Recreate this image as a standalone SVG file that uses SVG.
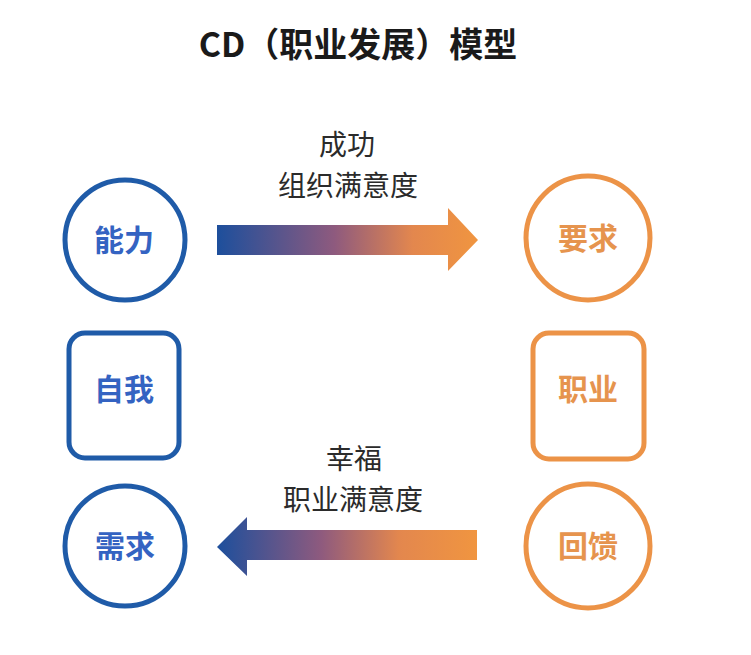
<svg xmlns="http://www.w3.org/2000/svg" width="751" height="655" viewBox="0 0 751 655">
<style>
text{font-family:"Noto Sans CJK SC","Noto Sans",sans-serif;text-anchor:middle}
.title{font-size:34px;font-weight:700;fill:#1a1a1a}
.lbl{font-size:28px;fill:#2b2b2b}
.bn{fill:#fff;stroke:#1f5ba8;stroke-width:5}
.on{fill:#fff;stroke:#ec9347;stroke-width:5}
.bt{font-size:30px;font-weight:700;fill:#3463c2}
.ot{font-size:30px;font-weight:700;fill:#e6944e}
</style>
<defs>
<linearGradient id="gR" x1="0" y1="0" x2="1" y2="0">
<stop offset="0" stop-color="#1d4f9c"/>
<stop offset="0.45" stop-color="#8e5a7e"/>
<stop offset="0.75" stop-color="#e3874e"/>
<stop offset="1" stop-color="#f09540"/>
</linearGradient>
<linearGradient id="gL" x1="1" y1="0" x2="0" y2="0">
<stop offset="0" stop-color="#f09540"/>
<stop offset="0.3" stop-color="#e3874e"/>
<stop offset="0.6" stop-color="#8e5a7e"/>
<stop offset="1" stop-color="#1d4f9c"/>
</linearGradient>
</defs>
<rect width="751" height="655" fill="#fff"/>
<text class="title" x="358" y="57">CD（职业发展）模型</text>
<g id="connectors">
<polygon points="217,225 448,225 448,208 478,240 448,271 448,255 217,255" fill="url(#gR)"/>
<polygon points="477,530 247,530 247,517 217,547 247,576 247,560 477,560" fill="url(#gL)"/>
<text class="lbl" x="347" y="155">成功</text>
<text class="lbl" x="348" y="196">组织满意度</text>
<text class="lbl" x="354" y="469">幸福</text>
<text class="lbl" x="353" y="510">职业满意度</text>
</g>
<g id="nengli"><circle class="bn" cx="125" cy="240" r="60"/><text class="bt" x="124" y="251">能力</text></g>
<g id="ziwo"><rect class="bn" x="69" y="333" width="110" height="125" rx="16"/><text class="bt" x="124" y="400">自我</text></g>
<g id="xuqiu"><circle class="bn" cx="125" cy="546" r="60"/><text class="bt" x="125" y="557">需求</text></g>
<g id="yaoqiu"><circle class="on" cx="588" cy="238" r="62"/><text class="ot" x="588" y="249">要求</text></g>
<g id="zhiye"><rect class="on" x="533" y="333" width="111" height="126" rx="16"/><text class="ot" x="588" y="400">职业</text></g>
<g id="huikui"><circle class="on" cx="588" cy="546" r="62"/><text class="ot" x="588" y="557">回馈</text></g>
</svg>
